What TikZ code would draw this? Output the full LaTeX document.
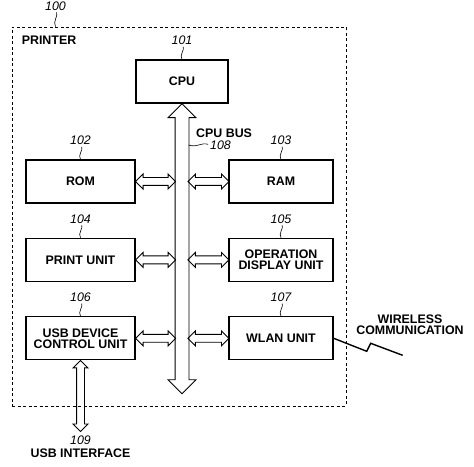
\documentclass[tikz,border=0pt]{standalone}
\usepackage{fontspec}
\setmainfont{Liberation Sans}
\usetikzlibrary{shapes,arrows,positioning,calc}
\tikzstyle{block} = [rectangle, draw, line width=1.4pt, minimum height=43pt,
    align=center, font=\fontsize{12.4}{11}\selectfont\bfseries]
\tikzstyle{num} = [inner sep=0pt, font=\fontsize{12.4}{12}\selectfont\itshape]
\tikzstyle{plain} = [inner sep=0pt, align=center,
    font=\fontsize{12.4}{11}\selectfont\bfseries]
\tikzstyle{link} = [double arrow, draw, line width=0.9pt, inner sep=0pt,
    inner ysep=3.5pt, double arrow head extend=3.5pt, text height=0pt,
    text depth=0pt, minimum width=0pt]
\tikzstyle{wave} = [draw, line width=0.6pt, shorten <=2pt]

\begin{document}
\begin{tikzpicture}[x=1pt, y=1pt]
 \useasboundingbox (0,0) rectangle (474,466);
 \node[draw, dash pattern=on 3pt off 2.5pt, line width=0.8pt,
   minimum width=334pt, minimum height=379pt] (printer) at (179,249.5) {};
 \node[plain, anchor=north west] (title) at ([shift={(10pt,-9pt)}]printer.north west) {PRINTER};
 \node[num] (n100) at (55.5,460) {100};

 \node[block, minimum width=92pt] (cpu) at (182,384.5) {CPU};
 \node[block, minimum width=109pt] (rom) at (80.5,284.5) {ROM};
 \node[block, minimum width=104pt] (ram) at (281,284.5) {RAM};
 \node[block, minimum width=109pt, below=34pt of rom] (print) {PRINT UNIT};
 \node[block, minimum width=104pt, below=34pt of ram] (opunit) {OPERATION\\DISPLAY UNIT};
 \node[block, minimum width=109pt, below=34pt of print] (usb) {USB DEVICE\\CONTROL UNIT};
 \node[block, minimum width=104pt, below=34pt of opunit] (wlan) {WLAN UNIT};

 \node[num, above=14pt of cpu] (n101) {101};
 \node[num, above=14pt of rom] (n102) {102};
 \node[num, above=14pt of ram] (n103) {103};
 \node[num, above=14pt of print] (n104) {104};
 \node[num, above=14pt of opunit] (n105) {105};
 \node[num, above=14pt of usb] (n106) {106};
 \node[num, above=14pt of wlan] (n107) {107};

 \node[link, rotate=90, minimum height=290pt, inner ysep=6.5pt,
   double arrow head extend=7pt] (bus) at ($(cpu.south)+(0,-145pt)$) {};
 \coordinate (busl) at ($(bus.center)+(-6.5pt,0)$);
 \coordinate (busr) at ($(bus.center)+(6.5pt,0)$);
 \node[plain, anchor=west] (busname) at (196,333) {CPU BUS};
 \node[num, anchor=west] (n108) at (210,321) {108};

 \node[link, minimum height=40pt] (romlink) at ($(rom.east)!0.5!(rom.east -| busl)$) {};
 \node[link, minimum height=41pt] (ramlink) at ($(ram.west)!0.5!(ram.west -| busr)$) {};
 \node[link, minimum height=40pt] (printlink) at ($(print.east)!0.5!(print.east -| busl)$) {};
 \node[link, minimum height=41pt] (oplink) at ($(opunit.west)!0.5!(opunit.west -| busr)$) {};
 \node[link, minimum height=40pt] (usblinkr) at ($(usb.east)!0.5!(usb.east -| busl)$) {};
 \node[link, minimum height=41pt] (wlanlink) at ($(wlan.west)!0.5!(wlan.west -| busr)$) {};

 \coordinate (usbend) at ($(usb.south)+(0,-71pt)$);
 \node[link, rotate=90, minimum height=71pt] (usblink) at ($(usb.south)!0.5!(usbend)$) {};
 \node[num, below=4pt of usbend] (n109) {109};
 \node[plain, below=4pt of n109] (usbif) {USB INTERFACE};

 \node[plain] (wireless) at (410,141) {WIRELESS\\COMMUNICATION};
 \draw[line width=1.4pt] (wlan.east) -- ++(33pt,-13pt) -- ++(4pt,8pt) -- ++(32pt,-12pt);

 \path[wave] (n100.south) .. controls +(3pt,-5pt) and +(-3pt,5pt) .. (n100.south |- printer.north);
 \path[wave] (n101.south) .. controls +(3pt,-4pt) and +(-3pt,4pt) .. (cpu.north);
 \path[wave] (n102.south) .. controls +(3pt,-4pt) and +(-3pt,4pt) .. (rom.north);
 \path[wave] (n103.south) .. controls +(3pt,-4pt) and +(-3pt,4pt) .. (ram.north);
 \path[wave] (n104.south) .. controls +(3pt,-4pt) and +(-3pt,4pt) .. (print.north);
 \path[wave] (n105.south) .. controls +(3pt,-4pt) and +(-3pt,4pt) .. (opunit.north);
 \path[wave] (n106.south) .. controls +(3pt,-4pt) and +(-3pt,4pt) .. (usb.north);
 \path[wave] (n107.south) .. controls +(3pt,-4pt) and +(-3pt,4pt) .. (wlan.north);
 \path[wave] (n108.west) .. controls +(-9pt,3pt) and +(9pt,-3pt) .. (n108.west -| busr);
\end{tikzpicture}
\end{document}
